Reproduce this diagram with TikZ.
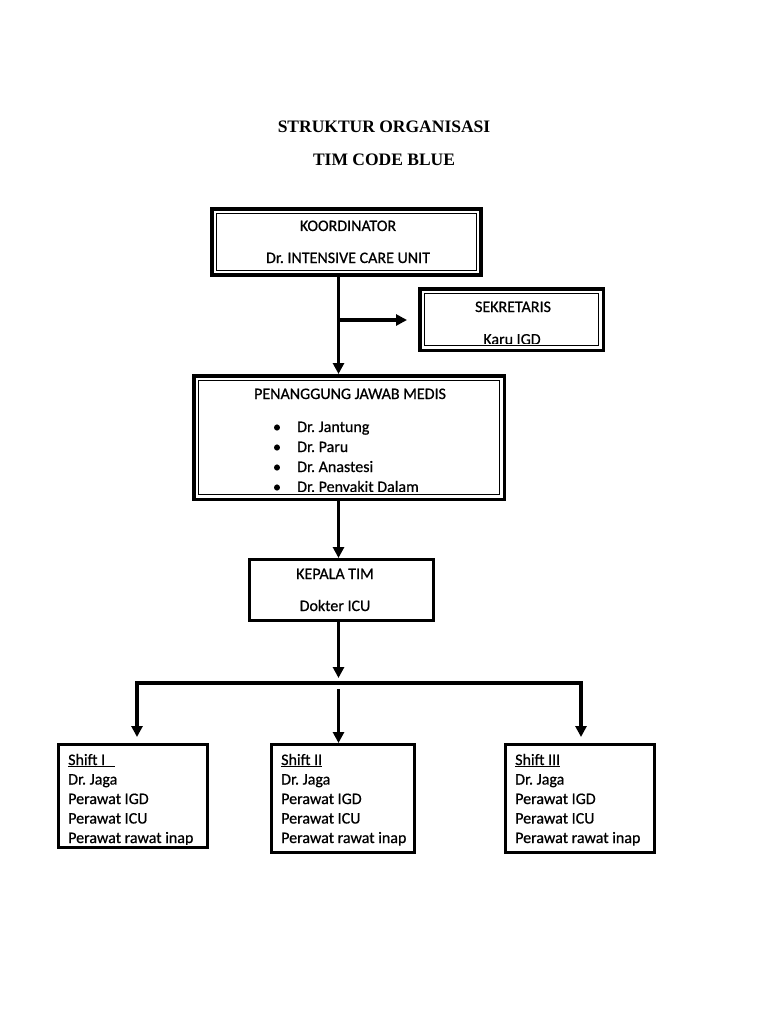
\documentclass[tikz,border=0pt]{standalone}
\usepackage{fontspec}
\setmainfont{Carlito}[FakeBold=0.7]
\newfontfamily\titlefont{Liberation Serif}
\usetikzlibrary{positioning,arrows.meta,calc}
\frenchspacing

\begin{document}
\begin{tikzpicture}[x=1pt,y=-1pt]

    \tikzstyle{dbl}=[draw, rectangle, line width=3.5pt, inner sep=0pt]
    \tikzstyle{dblin}=[draw, rectangle, line width=1pt, inner sep=0pt]
    \tikzstyle{sbox}=[draw, rectangle, line width=3pt, inner sep=0pt]
    \tikzstyle{lbl}=[inner sep=0pt, anchor=base, font=\fontsize{16}{19.5}\selectfont]
    \tikzstyle{lbll}=[lbl, anchor=base west]
    \tikzstyle{head}=[inner sep=0pt, anchor=base, font=\titlefont\bfseries\fontsize{17.5}{21}\selectfont]
    \tikzstyle{link}=[line width=3.5pt, -{Triangle[length=11pt,width=11pt]}]

    \fill[white] (0,0) rectangle (768,1024);
    \useasboundingbox (0,0) rectangle (768,1024);

    % title
    \node (title1) at (384,133)[head]{STRUKTUR ORGANISASI};
    \node (title2) at (384,166)[head]{TIM CODE BLUE};

    % koordinator
    \node (koor) at (346.5,242)[dbl, minimum width=269, minimum height=66]{};
    \node (koorIn) at (koor)[dblin, minimum width=260, minimum height=57]{};
    \node (koorA) at (348,231)[lbl]{KOORDINATOR};
    \node (koorB) at (348,263)[lbl]{Dr. INTENSIVE CARE UNIT};

    % sekretaris
    \node (sek) at (511.5,319.5)[dbl, minimum width=183.5, minimum height=61.5]{};
    \node (sekIn) at (sek)[dblin, minimum width=174.5, minimum height=52.5]{};
    \node (sekA) at (513,312)[lbl]{SEKRETARIS};
    \begin{scope}
      \clip (sekIn.north west) rectangle ($(sekIn.south east)+(0,-3)$);
      \node (sekB) at (512,344.5)[lbl]{Karu IGD};
    \end{scope}

    % penanggung jawab medis
    \node (pjm) at (349,437.5)[dbl, minimum width=310.5, minimum height=123.5]{};
    \node (pjmIn) at (pjm)[dblin, minimum width=301.5, minimum height=114.5]{};
    \node (pjmA) at (350,399)[lbl]{PENANGGUNG JAWAB MEDIS};
    \begin{scope}
      \clip (pjmIn.north west) rectangle ($(pjmIn.south east)+(0,-3.5)$);
      \node (pjmB1) at (277,432)[lbl]{\textbullet};
      \node (pjmB2) at (277,452)[lbl]{\textbullet};
      \node (pjmB3) at (277,472)[lbl]{\textbullet};
      \node (pjmB4) at (277,492)[lbl]{\textbullet};
      \node (pjmL1) at (297,432)[lbll]{Dr. Jantung};
      \node (pjmL2) at (297,452)[lbll]{Dr. Paru};
      \node (pjmL3) at (297,472)[lbll]{Dr. Anastesi};
      \node (pjmL4) at (297,492)[lbll]{Dr. Penyakit Dalam};
    \end{scope}

    % kepala tim
    \node (kep) at (341.5,590)[sbox, minimum width=184, minimum height=61]{};
    \node (kepA) at (335,579)[lbl]{KEPALA TIM};
    \node (kepB) at (335,611)[lbl]{Dokter ICU};

    % shifts
    \node (s1) at (133,796)[sbox, minimum width=149, minimum height=103]{};
    \node (s2) at (343,798.5)[sbox, minimum width=143, minimum height=108]{};
    \node (s3) at (580,798.5)[sbox, minimum width=149, minimum height=108]{};

    \begin{scope}
      \clip (s1.north west) rectangle ($(s1.south east)+(0,-4.5)$);
      \node (s1A) at (68,765)[lbll]{\underline{Shift I\hspace{10pt}}};
      \node (s1B) at (68,784.5)[lbll]{Dr. Jaga};
      \node (s1C) at (68,804)[lbll]{Perawat IGD};
      \node (s1D) at (68,823.5)[lbll]{Perawat ICU};
      \node (s1E) at (68,843)[lbll]{Perawat rawat inap};
    \end{scope}

    \node (s2A) at (281,765)[lbll]{\underline{Shift II}};
    \node (s2B) at (281,784.5)[lbll]{Dr. Jaga};
    \node (s2C) at (281,804)[lbll]{Perawat IGD};
    \node (s2D) at (281,823.5)[lbll]{Perawat ICU};
    \node (s2E) at (281,843)[lbll]{Perawat rawat inap};

    \node (s3A) at (515,765)[lbll]{\underline{Shift III}};
    \node (s3B) at (515,784.5)[lbll]{Dr. Jaga};
    \node (s3C) at (515,804)[lbll]{Perawat IGD};
    \node (s3D) at (515,823.5)[lbll]{Perawat ICU};
    \node (s3E) at (515,843)[lbll]{Perawat rawat inap};

    % connectors
    \coordinate (spine) at (338.5,0);
    \coordinate (fork) at (338.5,320);
    \coordinate (bar) at (338.5,683);
    \coordinate (barL) at (137,683);
    \coordinate (barR) at (581,683);

    \draw[link] (koor.south -| spine) -- (pjm.north -| spine);
    \draw[link, shorten >=11pt] (fork) -- (sek.west |- fork);
    \draw[link] (pjm.south -| spine) -- (kep.north -| spine);
    \draw[link, shorten >=5pt] (kep.south -| spine) -- (bar);
    \draw[link, shorten >=6pt] (bar) -- (barL) -- (barL |- s1.north);
    \draw[link, shorten >=6pt] (bar) -- (barR) -- (barR |- s3.north);
    \draw[link] ($(bar)+(0,6)$) -- (s2.north -| spine);

\end{tikzpicture}
\end{document}
